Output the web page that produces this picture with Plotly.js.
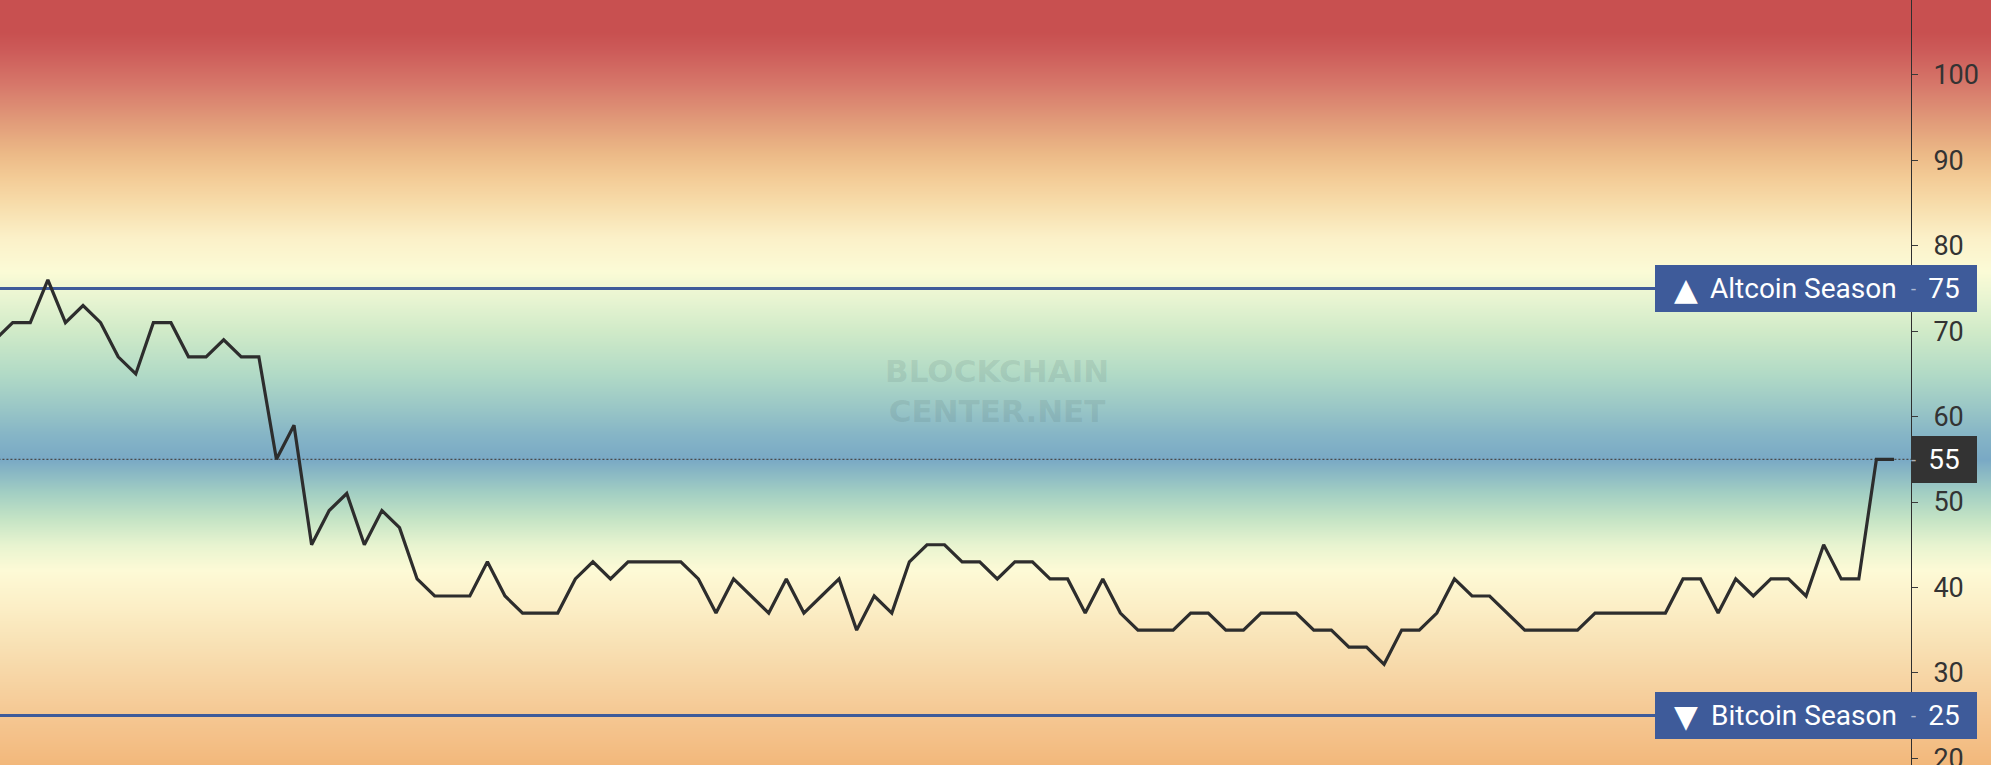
<!DOCTYPE html>
<html><head><meta charset="utf-8">
<script src="https://cdn.plot.ly/plotly-3.0.1.min.js"></script>
<style>html,body{margin:0;padding:0;overflow:hidden;background:#fff}#chart{width:1991px;height:765px}</style>
</head><body><div id="chart"></div>
<script>
// ---------------- data ----------------
const indexValues = [69,
  71,71,76,71,73,71,67,65,71,71,
  67,67,69,67,67,55,59,45,49,51,
  45,49,47,41,39,39,39,43,39,37,
  37,37,41,43,41,43,43,43,43,41,
  37,41,39,37,41,37,39,41,35,39,
  37,43,45,45,43,43,41,43,43,41,
  41,37,41,37,35,35,35,37,37,35,
  35,37,37,37,35,35,33,33,31,35,
  35,37,41,39,39,37,35,35,35,35,
  37,37,37,37,37,41,41,37,41,39,
  41,41,39,45,41,41,55,55];
const periods = indexValues.map((_, i) => i);
const seasonLevels = [75, 25];
const seasonArrows = ['▲', '▼'];
const seasonLabels = ['Altcoin Season', 'Bitcoin Season'];
const yTicks = [20, 30, 40, 50, 60, 70, 80, 90, 100];
const watermarkLines = ['BLOCKCHAIN', 'CENTER.NET'];

// ---------------- style ----------------
const W = 1991, H = 765;
const axisPx = 1911;          // pixel x of the price scale
const stepPx = 17.582;        // pixel distance between points
const firstPx = -4.88;        // pixel x of first point
const xr0 = -firstPx / stepPx;
const xr1 = xr0 + W / stepPx;
const axisX = xr0 + axisPx / stepPx;
const axisPos = axisPx / W;

const bgStops  = [0, 19, 25, 33, 38, 42, 45, 48, 51, 55, 58, 61, 65, 70, 74, 77, 81, 85, 88, 91, 95, 99, 103, 105, 130];
const bgColors = ['#f2b474','#f2b77a','#f5c792','#f8e0b3','#fcefc7','#fdfad6','#e8f4d0','#c5e4c5','#a3cfc3','#79a9c5','#86b5c6','#99c6c6','#b1dac6','#d0eac8','#e9f5d2','#fbfbd6','#fbf0c8','#f7dcaa','#f3cb96','#ebb886','#e09878','#d6776a','#cc5a58','#c85050','#c85050'];
const bgMin = bgStops[0], bgMax = bgStops[bgStops.length - 1];
const bgFrac = bgStops.map(v => (v - bgMin) / (bgMax - bgMin));

const blue = '#3e5b9a';
const labelFont = {family: 'Roboto, "DejaVu Sans", sans-serif', size: 28, color: '#ffffff'};

const traces = [
  {
    type: 'heatmap', x: [-20, 140], y: bgStops,
    z: bgFrac.map(f => [f, f]),
    colorscale: bgFrac.map((f, i) => [f, bgColors[i]]),
    zmin: 0, zmax: 1, zsmooth: 'best', showscale: false, hoverinfo: 'skip'
  }
];
seasonLevels.forEach(lv => traces.push({
  type: 'scatter', mode: 'lines', x: [xr0 - 1, axisX], y: [lv, lv],
  line: {color: blue, width: 3}, hoverinfo: 'skip', showlegend: false
}));
const lastVal = indexValues[indexValues.length - 1];
traces.push({
  type: 'scatter', mode: 'lines', x: [xr0 - 1, axisX], y: [lastVal, lastVal],
  line: {color: '#4a4a4a', width: 1.3, dash: '2px,2px'}, hoverinfo: 'skip', showlegend: false
});
traces.push({
  type: 'scatter', mode: 'lines', x: periods, y: indexValues,
  line: {color: '#2d2d2d', width: 3.2}, showlegend: false
});

const annotations = [];
const base = {xref: 'paper', x: axisPos, yref: 'y', yanchor: 'middle', borderpad: 0, borderwidth: 0, showarrow: false};
function valueBox(lv, txt, bg) {
  annotations.push(Object.assign({}, base, {xanchor: 'left', y: lv,
    text: txt, font: labelFont, bgcolor: bg, width: 66, height: 47, align: 'center', valign: 'middle'}));
  annotations.push(Object.assign({}, base, {xanchor: 'left', y: lv,
    text: '-', font: {family: 'Roboto', size: 18, color: 'rgba(225,230,240,0.7)'}}));
}
seasonLevels.forEach((lv, i) => {
  annotations.push(Object.assign({}, base, {xanchor: 'right', y: lv,
    text: '&nbsp;', font: labelFont, bgcolor: blue, width: 256, height: 47}));
  annotations.push(Object.assign({}, base, {xanchor: 'right', y: lv, xshift: -14,
    text: seasonLabels[i], font: labelFont}));
  annotations.push(Object.assign({}, base, {xanchor: 'left', y: lv, xshift: -237,
    text: seasonArrows[i], font: {family: 'DejaVu Sans', size: 31, color: '#ffffff'}}));
  valueBox(lv, String(lv), blue);
});
valueBox(lastVal, String(lastVal), '#333333');
annotations.push({
  xref: 'paper', yref: 'paper', x: 997 / W, y: 1 - 391 / H, xanchor: 'center', yanchor: 'middle',
  text: watermarkLines.join('<br>'),
  font: {family: 'DejaVu Sans', size: 31, weight: 700, color: 'rgba(70,95,95,0.14)'}, showarrow: false
});

const layout = {
  width: W, height: H,
  margin: {l: 0, r: 0, t: 0, b: 0, pad: 0},
  paper_bgcolor: '#ffffff', plot_bgcolor: '#ffffff',
  showlegend: false,
  font: {family: 'Roboto'},
  xaxis: {range: [xr0, xr1], visible: false, fixedrange: true},
  yaxis: {
    range: [19.21, 108.78], side: 'right', anchor: 'free', position: axisPos,
    tickvals: yTicks, ticks: 'outside', ticklen: 6, tickwidth: 1, tickcolor: '#3a3a3a',
    showline: true, linecolor: '#2f2f2f', linewidth: 1, showgrid: false, zeroline: false,
    ticklabeloverflow: 'allow',
    tickfont: {family: 'Roboto', size: 27, color: '#333333'}, ticklabelstandoff: 10, fixedrange: true
  },
  annotations: annotations
};
Plotly.newPlot('chart', traces, layout, {staticPlot: true, displayModeBar: false});
</script>
</body></html>
